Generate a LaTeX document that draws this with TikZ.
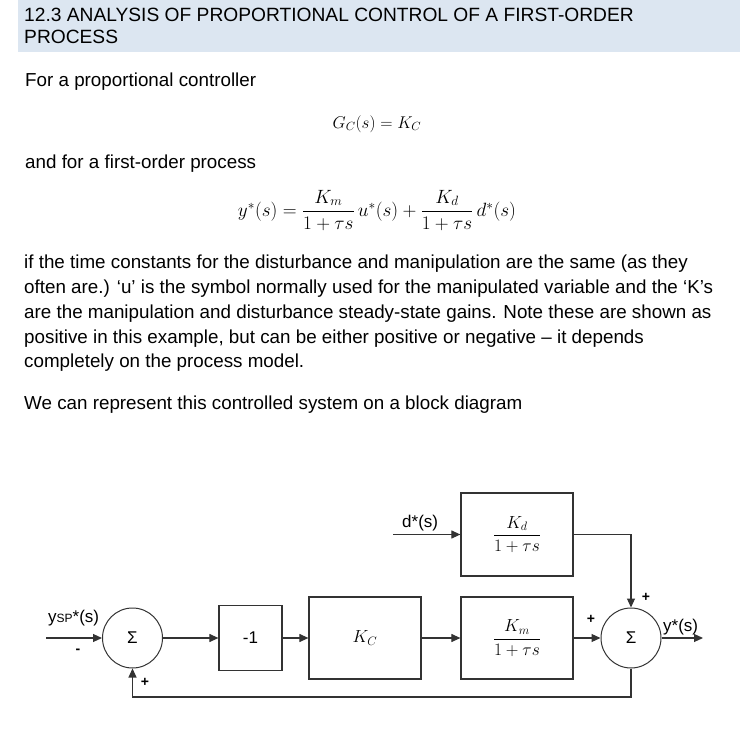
\RequirePackage{fix-cm}
\documentclass[tikz,border=0pt]{standalone}
\usepackage{amsmath,amssymb}
\usepackage{fontspec}
\setmainfont{Liberation Sans}
\usetikzlibrary{arrows.meta}
\definecolor{headblue}{HTML}{DCE6F1}
\definecolor{linegray}{HTML}{333333}

\begin{document}
\begin{tikzpicture}[x=1pt,y=-1pt,
  txt/.style={anchor=base west,inner sep=0pt,font=\fontsize{18.8}{22}\selectfont},
  mth/.style={anchor=base,inner sep=0pt,font=\fontsize{17}{21}\selectfont},
  blk/.style={draw=linegray,line width=1.2pt,rectangle,inner sep=0pt,font=\fontsize{17.5}{21}\selectfont},
  sumnode/.style={draw=linegray,line width=1pt,circle,minimum size=60pt,inner sep=0pt,font=\fontsize{17}{20}\selectfont},
  sig/.style={draw=linegray,line width=1.1pt,-{Triangle[length=9pt,width=8pt]}},
  lbl/.style={inner sep=0pt,font=\fontsize{17}{20}\selectfont},
  sgn/.style={inner sep=0pt,font=\bfseries\fontsize{14}{16}\selectfont}]

\useasboundingbox (0,0) rectangle (748,731);
\fill[headblue] (18,0) rectangle (740,52);
\node[txt,name=head1,font=\fontsize{19.2}{22}\selectfont] at (24,21) {12.3 ANALYSIS OF PROPORTIONAL CONTROL OF A FIRST-ORDER};
\node[txt,name=head2,font=\fontsize{19.2}{22}\selectfont] at (24,43) {PROCESS};

\node[txt,name=t1] at (25,86) {For a proportional controller};
\node[mth,name=gc] at (377,128) {$G_C(s)=K_C$};
\node[txt,name=t2] at (25,168) {and for a first-order process};
\node[mth,name=proc,font=\fontsize{19.2}{22}\selectfont] at (377,216) {$y^*(s)=\dfrac{K_m}{1+\tau s}\,u^*(s)+\dfrac{K_d}{1+\tau s}\,d^*(s)$};

\node[txt,name=p1] at (24,268) {if the time constants for the disturbance and manipulation are the same (as they};
\node[txt,name=p2] at (24,293) {often are.) `u' is the symbol normally used for the manipulated variable and the `K's};
\node[txt,name=p3] at (24,318) {are the manipulation and disturbance steady-state gains. Note these are shown as};
\node[txt,name=p4] at (24,343) {positive in this example, but can be either positive or negative -- it depends};
\node[txt,name=p5] at (24,367) {completely on the process model.};
\node[txt,name=p6] at (24,409) {We can represent this controlled system on a block diagram};

\node[sumnode,name=sum1] at (132.5,638) {Σ};
\node[blk,name=neg,minimum width=63pt,minimum height=65pt] at (250.5,638) {\fontsize{17}{20}\selectfont -1};
\node[blk,name=kc,minimum width=112pt,minimum height=82pt] at (365,638) {$K_C$};
\node[blk,name=km,minimum width=112pt,minimum height=82pt] at (517,638) {$\dfrac{K_m}{1+\tau s}$};
\node[blk,name=kd,minimum width=112pt,minimum height=83pt] at (517,534.5) {$\dfrac{K_d}{1+\tau s}$};
\node[sumnode,name=sum2] at (631,638) {Σ};

\coordinate (ysp) at (46,638);
\coordinate (dist) at (393,534.5);
\coordinate (yout) at (703,638);
\coordinate (fb) at (380,697);

\draw[sig] (ysp) -- (sum1);
\draw[sig] (sum1) -- (neg);
\draw[sig] (neg) -- (kc);
\draw[sig] (kc) -- (km);
\draw[sig] (km) -- (sum2);
\draw[sig] (dist) -- (kd);
\draw[sig] (kd.east) -| (sum2);
\draw[sig] (sum2) -- (yout);
\draw[sig] (sum2.south) |- (fb) -| (sum1.south);

\node[lbl,name=yspl,anchor=base west] at (48,622) {y{\fontsize{12}{14}\selectfont SP}*(s)};
\node[lbl,name=dl,anchor=base west] at (402,527) {d*(s)};
\node[lbl,name=yl,anchor=base west] at (663,631) {y*(s)};
\node[sgn,name=m1] at (78,651) {-};
\node[sgn,name=p1s] at (145,682) {+};
\node[sgn,name=p2s] at (646,597) {+};
\node[sgn,name=p3s] at (591,619) {+};
\end{tikzpicture}
\end{document}
